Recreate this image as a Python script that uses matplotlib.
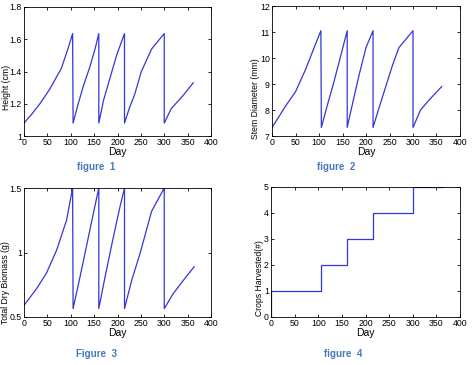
import matplotlib
matplotlib.use('Agg')
import matplotlib.pyplot as plt

plt.rcParams['font.family'] = ['Liberation Sans', 'DejaVu Sans']

# figure 1 - plant height
height_day = [0, 15, 34, 55, 80, 95, 104, 105, 115, 127, 141, 152, 160, 160, 170, 185, 198, 208, 215, 215, 225,
              237, 251, 273, 300, 300, 315, 340, 362]
height_cm = [1.08, 1.13, 1.20, 1.29, 1.42, 1.55, 1.635, 1.08, 1.19, 1.31, 1.43, 1.54, 1.635, 1.08, 1.22, 1.37,
             1.50, 1.58, 1.635, 1.08, 1.17, 1.26, 1.40, 1.54, 1.635, 1.08, 1.17, 1.25, 1.33]

# figure 2 - stem diameter
stem_day = [0, 15, 28, 50, 71, 96, 104, 105, 118, 131, 145, 160, 160, 172, 186, 200, 215, 215, 228, 242, 256,
            270, 300, 300, 316, 335, 361]
stem_mm = [7.33, 7.75, 8.13, 8.7, 9.54, 10.69, 11.05, 7.33, 8.2, 9.03, 10.0, 11.05, 7.33, 8.3, 9.4, 10.4, 11.05,
           7.33, 8.1, 8.9, 9.7, 10.4, 11.05, 7.33, 8.0, 8.4, 8.9]

# figure 3 - total dry biomass
bio_day = [0, 27, 48, 70, 91, 104, 105, 118, 132, 147, 160, 160, 175, 190, 205, 215, 215, 230, 248, 273, 300,
           300, 319, 340, 364]
bio_g = [0.59, 0.72, 0.84, 1.02, 1.25, 1.5, 0.565, 0.78, 1.02, 1.28, 1.5, 0.565, 0.84, 1.1, 1.35, 1.5, 0.565,
         0.78, 0.99, 1.32, 1.5, 0.565, 0.68, 0.78, 0.89]

# figure 4 - crops harvested
crop_day = [0, 0, 105, 105, 160, 160, 215, 215, 300, 300, 364]
crop_count = [0, 1, 1, 2, 2, 3, 3, 4, 4, 5, 5]

W, H = 474, 365
fig = plt.figure(figsize=(W / 100, H / 100), dpi=100)

line_col = '#3535d8'
cap_col = '#4479bd'

panels = [
    ((24, 7, 211, 136), height_day, height_cm, (1, 1.8), [1, 1.2, 1.4, 1.6, 1.8], ['1', '1.2', '1.4', '1.6', '1.8'],
     'Height (cm)', (-0.07, 0.38), 'figure  1', (96, 167)),
    ((272, 6, 460, 136), stem_day, stem_mm, (7, 12), [7, 8, 9, 10, 11, 12], ['7', '8', '9', '10', '11', '12'],
     'Stem Diameter (mm)', (-0.064, 0.29), 'figure  2', (336, 167)),
    ((24, 188, 211, 317), bio_day, bio_g, (0.5, 1.5), [0.5, 1, 1.5], ['0.5', '1', '1.5'],
     'Total Dry Biomass (g)', (-0.075, 0.27), 'Figure  3', (96, 354)),
    ((271, 187, 460, 317), crop_day, crop_count, (0, 5), [0, 1, 2, 3, 4, 5], ['0', '1', '2', '3', '4', '5'],
     'Crops Harvested(#)', (-0.037, 0.30), 'figure  4', (343, 354)),
]

for (x0, y0, x1, y1), xs, ys, ylim, yt, ytl, ylab, lpos, cap, (cx, cy) in panels:
    ax = fig.add_axes([x0 / W, 1 - y1 / H, (x1 - x0) / W, (y1 - y0) / H])
    ax.plot(xs, ys, color=line_col, lw=0.9)
    ax.set_xlim(0, 400)
    ax.set_ylim(*ylim)
    ax.set_xticks(range(0, 401, 50))
    ax.set_yticks(yt)
    ax.set_yticklabels(ytl)
    ax.tick_params(direction='in', top=True, right=True, labelsize=6.3, length=2.5, width=0.6, pad=1.5)
    for s in ax.spines.values():
        s.set_linewidth(0.6)
    ax.set_xlabel('Day', fontsize=7.5, labelpad=0)
    ax.set_ylabel(ylab, fontsize=6.2)
    ax.yaxis.set_label_coords(*lpos)
    fig.text(cx / W, 1 - cy / H, cap, color=cap_col, fontsize=7, fontweight='bold', ha='center', va='center')

fig.savefig('out.png', dpi=100)
